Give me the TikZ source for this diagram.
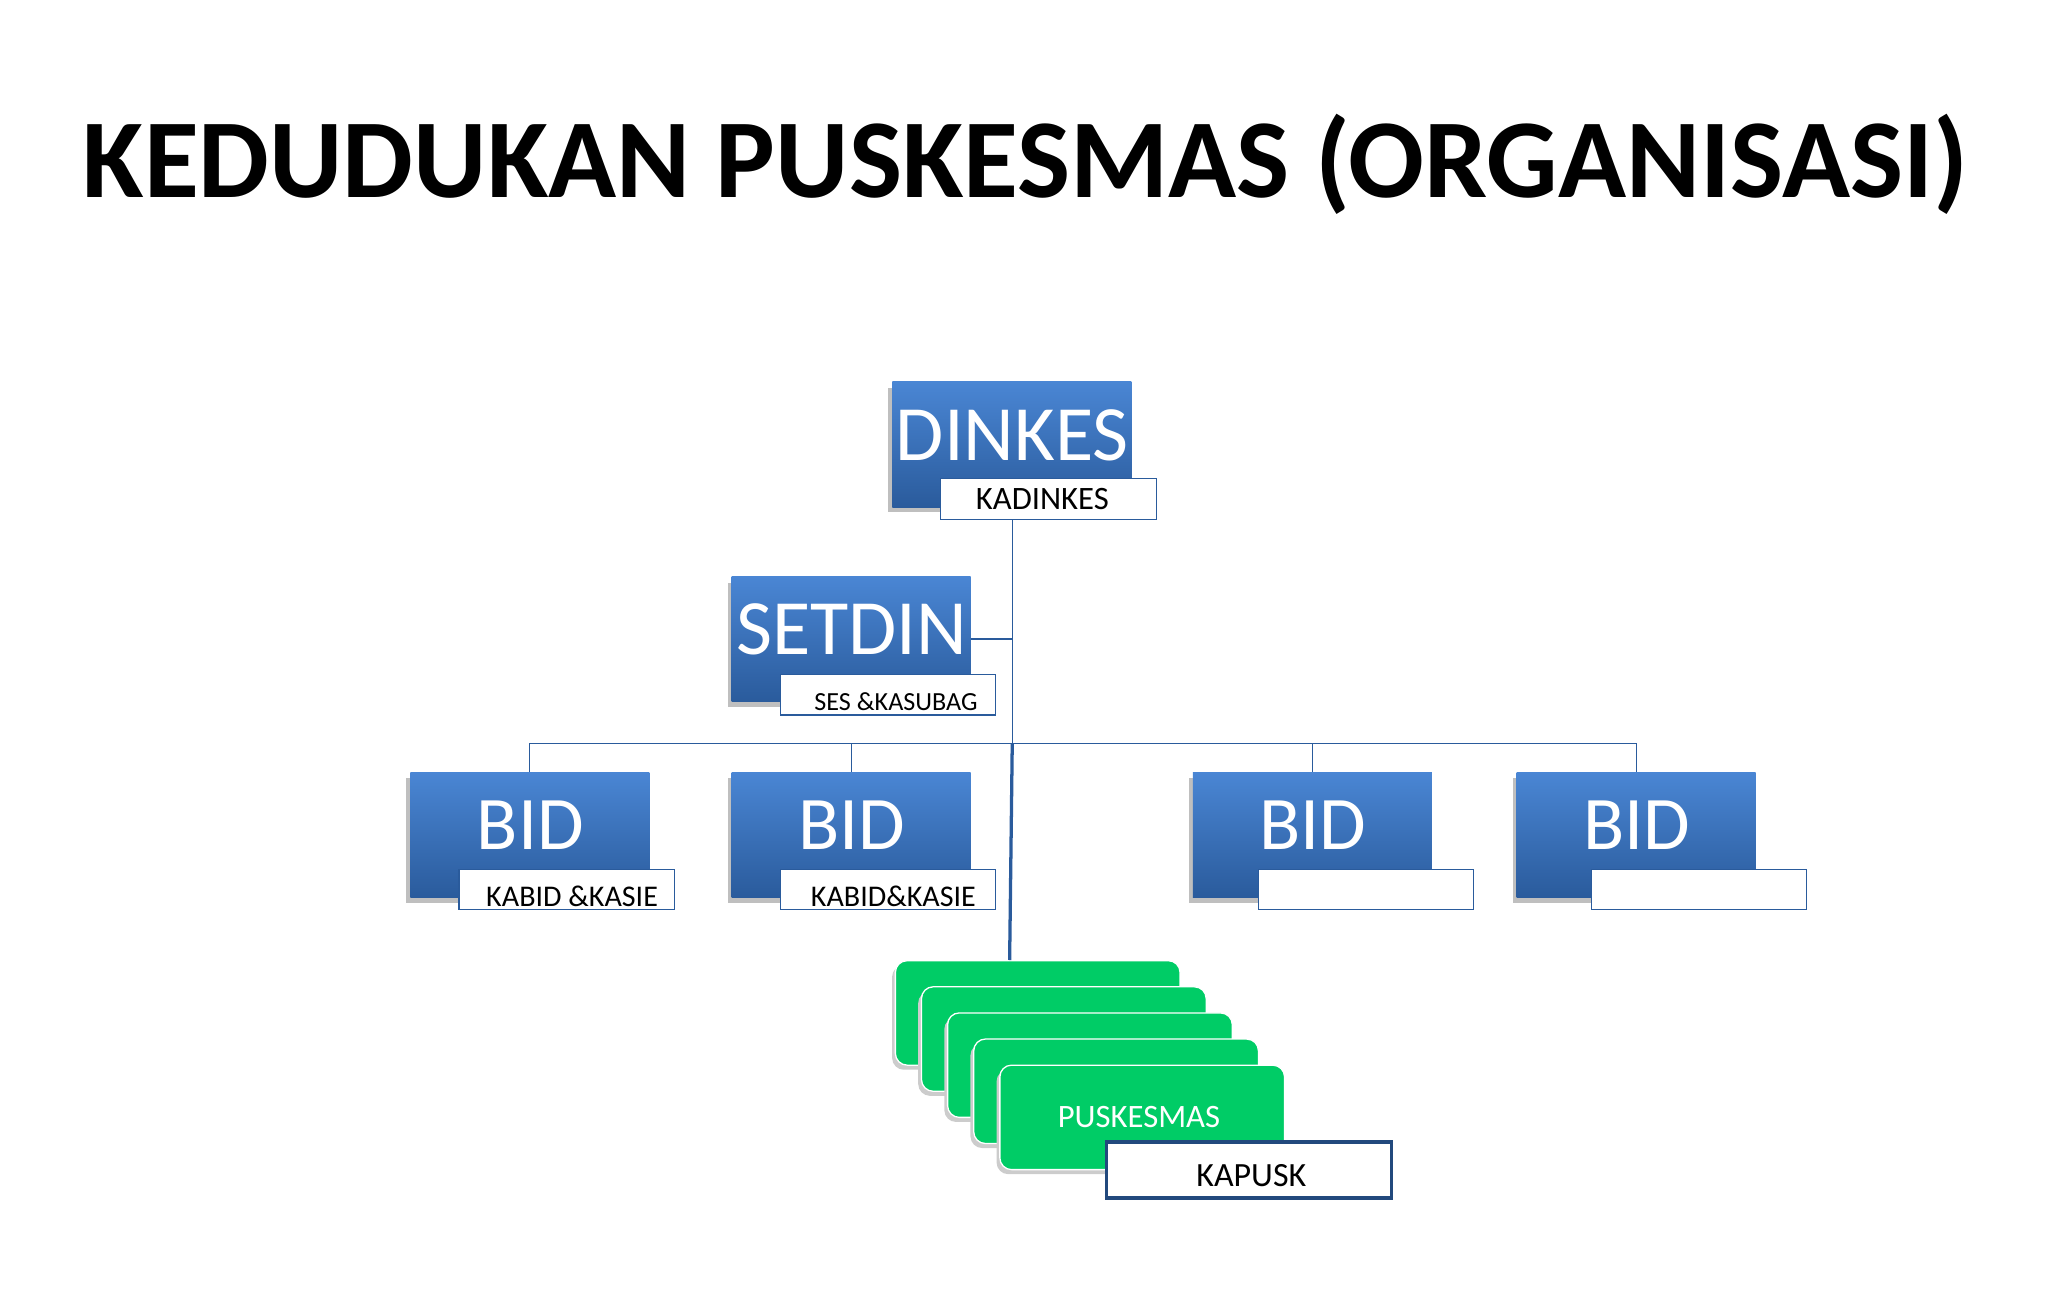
\documentclass[tikz,border=0pt]{standalone}
\usepackage{fontspec}
\setmainfont{Carlito}
\begin{document}
\begin{tikzpicture}[x=1pt,y=-1pt,
  bluebox/.style={draw=none,top color=blue1,bottom color=blue2,minimum width=183pt,minimum height=96pt,inner sep=0pt,anchor=north west},
  lbl/.style={draw=blue2,fill=white,line width=0.8pt,minimum width=165pt,minimum height=31pt,inner sep=0pt,anchor=north west},
  gbox/.style={draw=white,line width=1pt,fill=pgreen,rounded corners=9pt,minimum width=218pt,minimum height=80pt,inner sep=0pt,anchor=north west},
  conn/.style={draw=blue2,line width=0.9pt},
  shadowfx/.style={fill=black!25}]
\definecolor{blue1}{HTML}{4A86D4}
\definecolor{blue2}{HTML}{2A5B9C}
\definecolor{pgreen}{HTML}{00CC66}
\useasboundingbox (0,0) rectangle (1568,995);
\node[font=\bfseries\fontsize{86}{90}\selectfont] (title) at (785,126) {KEDUDUKAN PUSKESMAS (ORGANISASI)};
% connectors
\coordinate (j) at (775,569);
% boxes with shadows
\foreach \x/\y in {683/292,560/441,314/591,560/591,913/591,1161/591}{
  \fill[shadowfx] (\x-3,\y+5) rectangle (\x+180,\y+100);}
\node[bluebox] (dinkes) at (683,292) {};
\node[text=white,font=\fontsize{60}{60}\selectfont] at (775,333) {DINKES};
\node[lbl] (kad) at (720,366) {};
\node[font=\fontsize{25}{25}\selectfont] at (798,382) {KADINKES};
\node[bluebox] (setdin) at (560,441) {};
\node[text=white,font=\fontsize{60}{60}\selectfont] at (652,482) {SETDIN};
\node[lbl] (ses) at (597,516) {};
\node[font=\fontsize{20}{20}\selectfont] at (686,537) {SES \&KASUBAG};
\foreach \n/\x/\l/\t in {b1/314/351/{KABID \&KASIE},b2/560/597/{KABID\&KASIE},b3/913/963/{},b4/1161/1218/{}}{
  \node[bluebox] (\n) at (\x,591) {};
  \node[text=white,font=\fontsize{58}{58}\selectfont] at (\x+92,632) {BID};
  \node[lbl] (\n l) at (\l,665) {};
  \node[font=\fontsize{23}{23}\selectfont] at (\l+87,686) {\t};
}
\draw[conn] (kad.south -| j) -- (j);
\draw[conn] (setdin.east) -- (setdin.east -| j);
\draw[conn] (b1.north) -- (b1.north |- j) -- (b4.north |- j) -- (b4.north);
\draw[conn] (b2.north |- j) -- (b2.north);
\draw[conn] (b3.north |- j) -- (b3.north);
% puskesmas
\foreach \i in {0,...,4}{
  \fill[black!20,rounded corners=9pt] (685+20*\i-2,735+20*\i+4) rectangle (685+20*\i+214,735+20*\i+84);
  \node[gbox] (p\i) at (685+20*\i,735+20*\i) {};}
\draw[draw=blue2,line width=2.5pt] (j) -- (p0.north -| 773,0);
\node[text=white,font=\fontsize{25}{25}\selectfont] at (872,855) {PUSKESMAS};
\node[draw=blue2!80!black,line width=2.5pt,fill=white,minimum width=218pt,minimum height=43pt,inner sep=0pt,anchor=north west] (kap) at (846,873) {};
\node[font=\fontsize{26}{26}\selectfont] at (958,900) {KAPUSK};
\end{tikzpicture}
\end{document}
